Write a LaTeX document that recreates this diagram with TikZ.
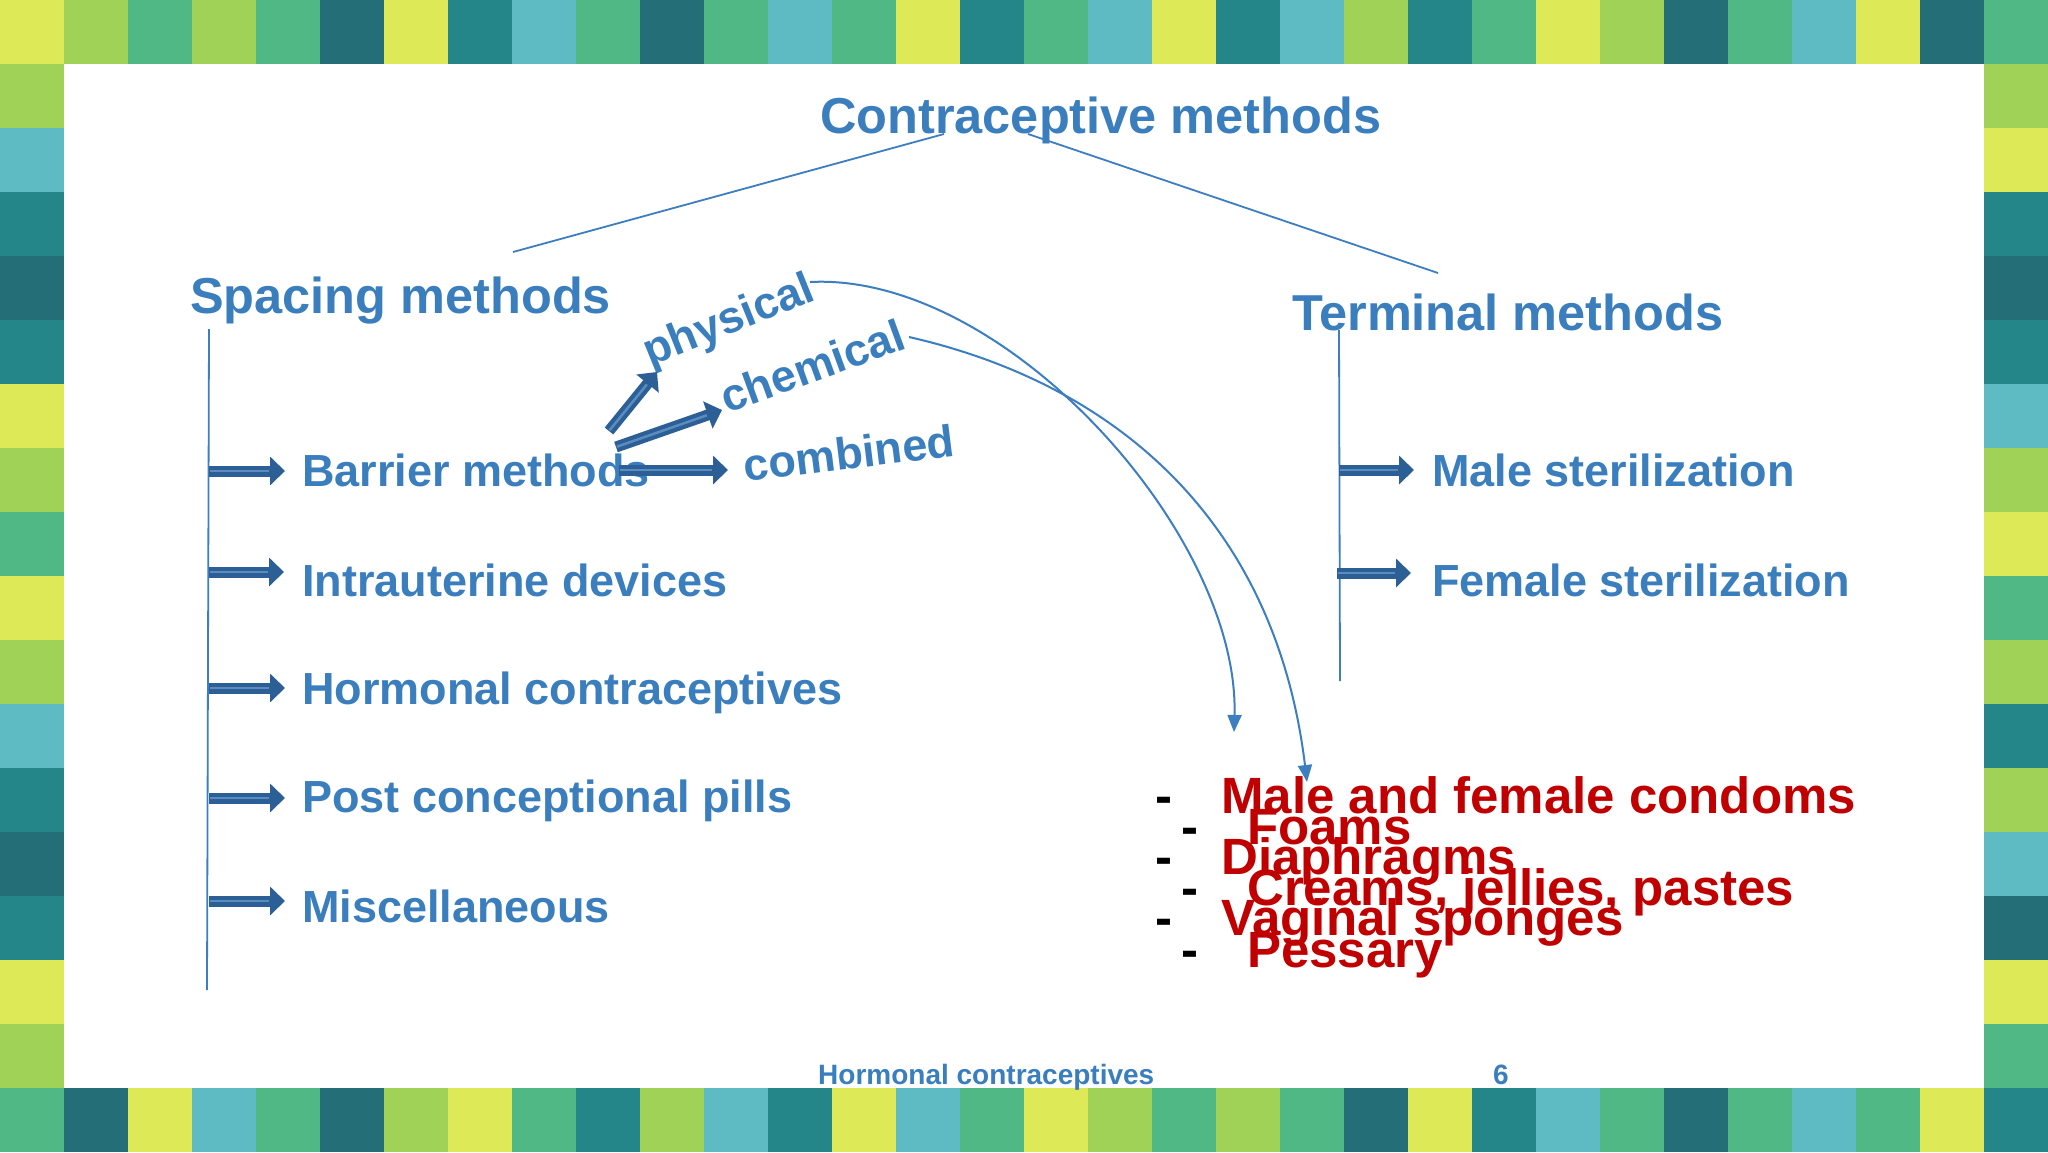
\documentclass[tikz,border=0pt]{standalone}
\usepackage{fontspec}
\setmainfont{Liberation Sans}
\usetikzlibrary{arrows.meta}
\definecolor{tY}{HTML}{DEE958}
\definecolor{tL}{HTML}{A0D258}
\definecolor{tG}{HTML}{50B884}
\definecolor{tD}{HTML}{246E78}
\definecolor{tT}{HTML}{25868A}
\definecolor{tC}{HTML}{5EBBC4}
\definecolor{txtblue}{HTML}{3A7EBE}
\definecolor{lnblue}{HTML}{3C7EC0}
\definecolor{arrdark}{HTML}{2C5F96}
\definecolor{arrhi}{HTML}{5A8CC0}
\definecolor{redtxt}{HTML}{C00000}
\tikzset{
 head/.style={inner sep=0pt, anchor=base west, text=txtblue, font=\fontsize{50.5}{60}\selectfont\bfseries},
 item/.style={inner sep=0pt, anchor=base west, text=txtblue, font=\fontsize{45}{54}\selectfont\bfseries},
 reditem/.style={inner sep=0pt, anchor=base west, text=redtxt, font=\fontsize{51}{60}\selectfont\bfseries},
 dashmark/.style={inner sep=0pt, anchor=base west, text=black, font=\fontsize{51}{60}\selectfont\bfseries},
 foot/.style={inner sep=0pt, anchor=base west, text=txtblue, font=\fontsize{28}{34}\selectfont\bfseries},
 linkline/.style={draw=lnblue, line width=1.8pt},
 curvearrow/.style={draw=lnblue, line width=2pt, -{Triangle[length=17pt,width=14pt]}},
 blockarrow/.style={draw=arrdark, line width=11pt, -{Triangle[length=15pt,width=28pt]}},
 blockhi/.style={draw=arrhi, line width=2.5pt, shorten >=16pt, shorten <=1pt},
}
\newcommand\barrow[2]{\draw[blockarrow] (#1) -- (#2); \draw[blockhi] (#1) -- (#2);}
\begin{document}
\begin{tikzpicture}[x=1pt,y=-1pt]
\useasboundingbox (0,0) rectangle (2048,1152);
\fill[white] (0,0) rectangle (2048,1152);
% border tiles
\foreach \c [count=\i from 0] in {tY,tL,tG,tL,tG,tD,tY,tT,tC,tG,tD,tG,tC,tG,tY,tT,tG,tC,tY,tT,tC,tL,tT,tG,tY,tL,tD,tG,tC,tY,tD,tG}
  \fill[\c] (64*\i,0) rectangle ++(64,64);
\foreach \c [count=\i from 0] in {tG,tD,tY,tC,tG,tD,tL,tY,tG,tT,tL,tC,tT,tY,tC,tG,tY,tL,tG,tL,tG,tD,tY,tT,tC,tG,tD,tG,tC,tG,tY,tT}
  \fill[\c] (64*\i,1088) rectangle ++(64,64);
\foreach \c [count=\j from 1] in {tL,tC,tT,tD,tT,tY,tL,tG,tY,tL,tC,tT,tD,tT,tY,tL}
  \fill[\c] (0,64*\j) rectangle ++(64,64);
\foreach \c [count=\j from 1] in {tL,tY,tT,tD,tT,tC,tL,tY,tG,tL,tT,tL,tC,tD,tY,tG}
  \fill[\c] (1984,64*\j) rectangle ++(64,64);

% headings
\node[head] (title) at (820,133) {Contraceptive methods};
\node[head] (spacing) at (190,313) {Spacing methods};
\node[head] (terminal) at (1292,330) {Terminal methods};

% items
\node[item] (barrier) at (302,486) {Barrier methods};
\node[item] (iud) at (302,596) {Intrauterine devices};
\node[item] (hormonal) at (302,704) {Hormonal contraceptives};
\node[item] (post) at (302,812) {Post conceptional pills};
\node[item] (misc) at (302,922) {Miscellaneous};
\node[item] (male) at (1432,486) {Male sterilization};
\node[item] (female) at (1432,596) {Female sterilization};

% rotated labels
\node[item, rotate=22] (physical) at (650,367) {physical};
\node[item, rotate=20] (chemical) at (727,414) {chemical};
\node[item, rotate=7] (combined) at (745,482) {combined};

% red list
\node[dashmark] (d1) at (1155,813) {-};
\node[reditem] (r1) at (1221,813) {Male and female condoms};
\node[dashmark] (d2) at (1181,844) {-};
\node[reditem] (r2) at (1247,844) {Foams};
\node[dashmark] (d3) at (1155,874) {-};
\node[reditem] (r3) at (1221,874) {Diaphragms};
\node[dashmark] (d4) at (1181,905) {-};
\node[reditem] (r4) at (1247,905) {Creams, jellies, pastes};
\node[dashmark] (d5) at (1155,935) {-};
\node[reditem] (r5) at (1221,935) {Vaginal sponges};
\node[dashmark] (d6) at (1181,967) {-};
\node[reditem] (r6) at (1247,967) {Pessary};

% footer
\node[foot] (footer) at (818,1084) {Hormonal contraceptives};
\node[foot] (pagenum) at (1493,1084) {6};

% title branches
\coordinate (tl) at (944,134); \coordinate (sl) at (513,252);
\coordinate (tr) at (1028,134); \coordinate (trr) at (1438,273);
\draw[linkline] (tl) -- (sl);
\draw[linkline] (tr) -- (trr);

% vertical lines
\coordinate (lvtop) at (209,329); \coordinate (lvbot) at (207,990);
\coordinate (rvtop) at (1339,330); \coordinate (rvbot) at (1340,681);
\draw[linkline] (lvtop) -- (lvbot);
\draw[linkline] (rvtop) -- (rvbot);

% block arrows left
\coordinate (la1) at (209,471); \coordinate (lb1) at (285,471);
\coordinate (la2) at (209,572); \coordinate (lb2) at (284,572);
\coordinate (la3) at (209,688); \coordinate (lb3) at (285,688);
\coordinate (la4) at (209,798); \coordinate (lb4) at (285,798);
\coordinate (la5) at (209,901); \coordinate (lb5) at (285,901);
\barrow{la1}{lb1}
\barrow{la2}{lb2}
\barrow{la3}{lb3}
\barrow{la4}{lb4}
\barrow{la5}{lb5}
% block arrows right
\coordinate (ra1) at (1339,470); \coordinate (rb1) at (1414,470);
\coordinate (ra2) at (1337,573); \coordinate (rb2) at (1411,573);
\barrow{ra1}{rb1}
\barrow{ra2}{rb2}
% branch arrows
\coordinate (ba1) at (609,431); \coordinate (bb1) at (657,372);
\coordinate (ba2) at (616,447); \coordinate (bb2) at (722,410);
\coordinate (ba3) at (619,470); \coordinate (bb3) at (728,470);
\barrow{ba1}{bb1}
\barrow{ba2}{bb2}
\barrow{ba3}{bb3}

% curved arrows
\coordinate (c1s) at (810,282); \coordinate (c1e) at (1234,732);
\coordinate (c2s) at (909,337); \coordinate (c2e) at (1307,782);
\draw[curvearrow] (c1s) .. controls (1005,272) and (1240,535) .. (c1e);
\draw[curvearrow] (c2s) .. controls (1120,385) and (1276,525) .. (c2e);
\end{tikzpicture}
\end{document}
